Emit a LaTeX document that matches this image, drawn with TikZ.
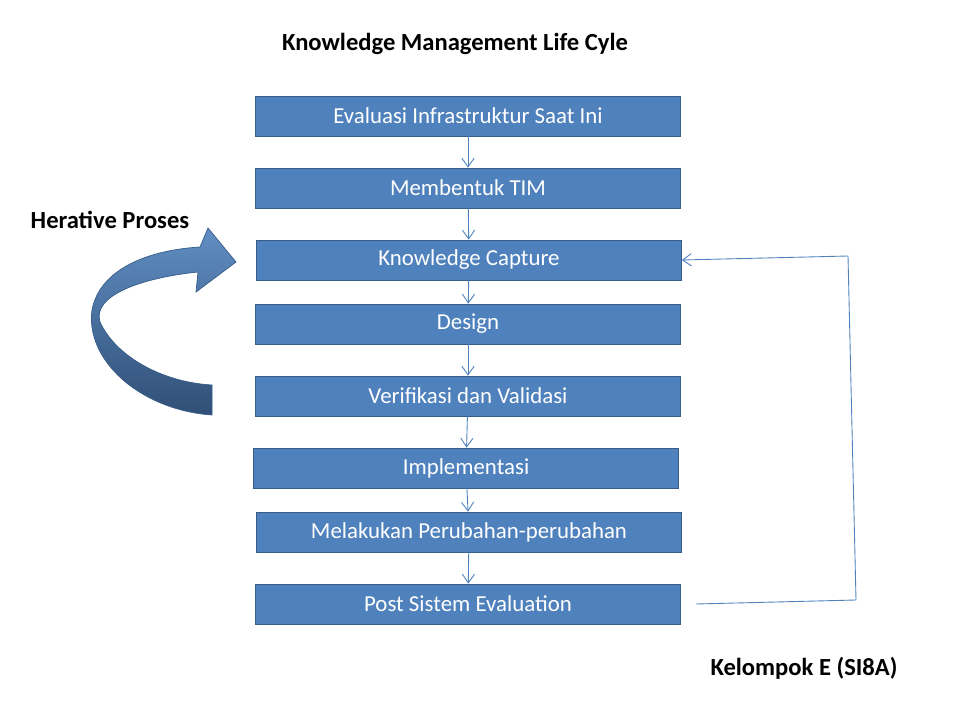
\documentclass[tikz,border=0pt]{standalone}
\usepackage{fontspec}
\setmainfont{Carlito}
\usetikzlibrary{arrows.meta}
\definecolor{boxfill}{HTML}{4F81BD}
\definecolor{boxline}{HTML}{385D8A}
\begin{document}
\begin{tikzpicture}[x=0.02cm,y=-0.02cm,
  stage/.style={draw=boxline,fill=boxfill,text=white,minimum width=8.5cm,minimum height=0.8cm,inner sep=0pt,font=\fontsize{13}{15}\selectfont},
  flow/.style={draw=boxfill,-{Straight Barb[length=5pt,width=7pt]},line width=0.5pt},
  lbl/.style={font=\bfseries\fontsize{14}{16}\selectfont}]
\useasboundingbox (0,0) rectangle (960,720);
% title and labels
\node[lbl] (title) at (455,44) {Knowledge Management Life Cyle};
\node[lbl] (iter) at (110,220) {Herative Proses};
\node[lbl] (group) at (804,668) {Kelompok E (SI8A)};
% steps
\node[stage] (s1) at (468,116) {Evaluasi Infrastruktur Saat Ini};
\node[stage] (s2) at (468,188) {Membentuk TIM};
\node[stage] (s3) at (469,260) {Knowledge Capture};
\node[stage] (s4) at (468,324) {Design};
\node[stage] (s5) at (468,396) {Verifikasi dan Validasi};
\node[stage] (s6) at (466,468) {Implementasi};
\node[stage] (s7) at (469,532) {Melakukan Perubahan-perubahan};
\node[stage] (s8) at (468,604) {Post Sistem Evaluation};
% connectors
\draw[flow] (s1) -- (s2);
\draw[flow] (s2) -- (s3);
\draw[flow] (s3) -- (s4);
\draw[flow] (s4) -- (s5);
\draw[flow] (s5) -- (s6);
\draw[flow] (s6) -- (s7);
\draw[flow] (s7) -- (s8);
\coordinate (f1) at (856,600);
\coordinate (f2) at (848,256);
\draw[flow] ([xshift=0.3cm]s8.east) -- (f1) -- (f2) -- (s3.east);
% curved iterative arrow
\shade[top color=boxfill!90!white, bottom color=boxline!85!black, draw=boxline]
  (212,415) .. controls (140,410) and (85,360) .. (92,310)
  .. controls (100,268) and (150,250) .. (200,247)
  -- (208,228) -- (236,262) -- (196,292) -- (198,272)
  .. controls (140,278) and (92,296) .. (100,322)
  .. controls (115,355) and (160,382) .. (212,385) -- cycle;
\end{tikzpicture}
\end{document}
